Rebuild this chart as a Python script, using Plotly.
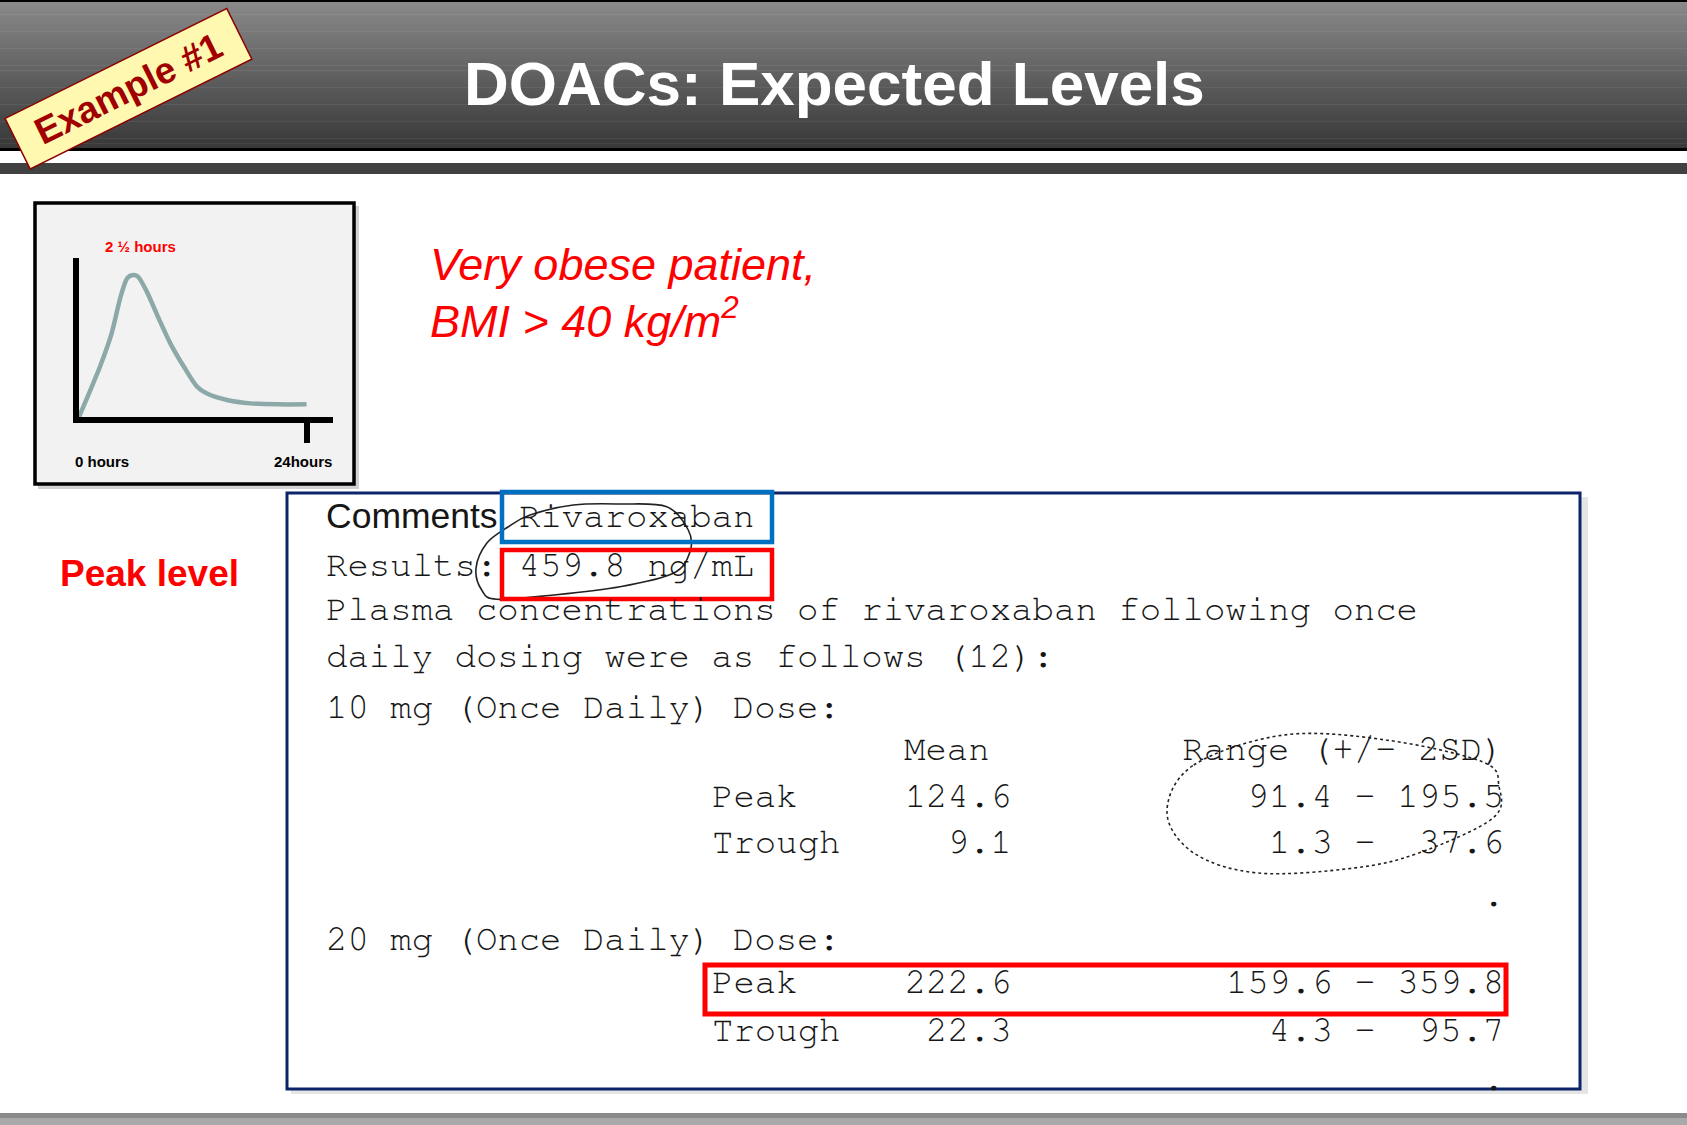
import plotly.graph_objects as go

W, H = 1687, 1125

# ---- data ----
# schematic PK curve in the inset (hours, % of peak)
t_hours = [0, 2.3, 3.4, 4.4, 5.1, 5.7, 6.2, 7.1, 8.3, 9.7, 11.1, 12.5, 13.5, 15.6, 18.1, 20.9, 24]
conc_pct = [0, 37, 58, 85, 98, 100, 99, 89, 71, 51, 35, 21, 16.5, 12, 9.6, 8.9, 8.9]

drug = "Rivaroxaban"
patient_result = 459.8
intro_lines = ["Plasma concentrations of rivaroxaban following once",
               "daily dosing were as follows (12):"]
doses = ["10 mg", "20 mg"]
peak_mean = [124.6, 222.6]
trough_mean = [9.1, 22.3]
peak_lo = [91.4, 159.6]
peak_hi = [195.5, 359.8]
trough_lo = [1.3, 4.3]
trough_hi = [37.6, 95.7]

SANS = "Arial, Liberation Sans, sans-serif"
MONO = "FreeMono, Nimbus Mono PS, Courier New, Liberation Mono, monospace"
RED = "#FF0000"
CW = 21.42          # monospace advance (px) at the report font size
X0 = 325            # left margin of the scanned report text


def rect(x0, y0, x1, y1, fill=None, line=None, lw=0, layer="below"):
    return dict(type="rect", xref="x", yref="y", x0=x0, y0=y0, x1=x1, y1=y1,
                fillcolor=fill or "rgba(0,0,0,0)", layer=layer,
                line=dict(color=line or "rgba(0,0,0,0)", width=lw))


def smooth_path(pts):
    """closed catmull-rom loop -> svg path (hand-drawn circles)"""
    n = len(pts)
    d = f"M {pts[0][0]},{pts[0][1]}"
    for i in range(n):
        p0, p1, p2, p3 = pts[i - 1], pts[i], pts[(i + 1) % n], pts[(i + 2) % n]
        c1 = (p1[0] + (p2[0] - p0[0]) / 6, p1[1] + (p2[1] - p0[1]) / 6)
        c2 = (p2[0] - (p3[0] - p1[0]) / 6, p2[1] - (p3[1] - p1[1]) / 6)
        d += f" C {c1[0]:.1f},{c1[1]:.1f} {c2[0]:.1f},{c2[1]:.1f} {p2[0]:.1f},{p2[1]:.1f}"
    return d + " Z"


def txt(x, y, s, size, color="black", anchor="left", bold=False, italic=False, family=SANS):
    if bold:
        s = f"<b>{s}</b>"
    if italic:
        s = f"<i>{s}</i>"
    return dict(x=x, y=y, xref="x", yref="y", text=s, showarrow=False, xanchor=anchor,
                yanchor="middle", borderpad=0, font=dict(family=family, size=size, color=color))


def mono(row_y, s):
    # leading blanks -> shift the anchor instead, so text boxes don't overlap
    lead = len(s) - len(s.lstrip(" "))
    s = s.lstrip(" ")
    return txt(X0 + lead * CW, row_y, s.replace(" ", "\u00a0"), 35.7, color="#161616", family=MONO)


shapes = []
# header gradient
n = 60
for i in range(n):
    f = i / (n - 1)
    c = int(137 - f * 80)
    shapes.append(rect(0, 2 + i * 146 / n, W, 2 + (i + 1) * 146 / n + 0.6, fill=f"rgb({c},{c},{c})"))
shapes.append(rect(0, 0, W, 2, fill="black"))
shapes.append(rect(0, 148, W, 151, fill="black"))
shapes.append(rect(0, 163, W, 174, fill="#414141"))
# bottom band
shapes.append(rect(0, 1113, W, 1118, fill="#8a8a8a"))
shapes.append(rect(0, 1118, W, 1125, fill="#a9a9a9"))

# inset box with shadow
shapes.append(rect(38, 206, 359, 489, fill="rgba(0,0,0,0.18)"))
shapes.append(rect(35, 203, 354, 484, fill="#F2F2F2", line="black", lw=3.5))

# scanned report box with shadow
shapes.append(rect(291, 497, 1588, 1094, fill="rgba(0,0,0,0.10)"))
shapes.append(rect(287, 493, 1580, 1089, fill="white", line="#0D2468", lw=3))

# hand-drawn loops
range_loop = [(1193.8, 765), (1284, 735), (1386, 740), (1482.8, 762), (1498.9, 786),
              (1493, 818), (1418.6, 853), (1354, 868), (1258, 873), (1193.8, 853), (1167, 812)]
shapes.append(dict(type="path", xref="x", yref="y", path=smooth_path(range_loop), layer="above",
                   line=dict(color="#222", width=1.6, dash="dot")))
result_loop = [(508, 527), (486.7, 543.3), (476, 568.3), (481.7, 590), (496.7, 599.3),
               (553.3, 595), (620, 586.7), (673.3, 573.3), (690, 551.7), (688.3, 530),
               (666.7, 506.7), (620, 504), (573.3, 505), (530, 515)]
shapes.append(dict(type="path", xref="x", yref="y", path=smooth_path(result_loop), layer="above",
                   line=dict(color="#222", width=1.6)))

# highlight boxes
shapes.append(rect(502, 492, 772, 542, line="#0070C0", lw=4.5, layer="above"))
shapes.append(rect(502, 550, 772, 599, line=RED, lw=4.5, layer="above"))
shapes.append(rect(705, 965, 1506, 1014, line=RED, lw=5, layer="above"))

ann = []
ann.append(txt(834, 83, "DOACs: Expected Levels", 62, color="white", anchor="center", bold=True))
tag = txt(128, 89, "Example #1", 37, color="#A00000", anchor="center", bold=True)
tag.update(textangle=-26.4, bgcolor="#FFF8B0", bordercolor="#8B0000", borderwidth=1.5,
           width=246, height=55)
ann.append(tag)

ann.append(txt(140, 246, "2 ½ hours", 15, color=RED, anchor="center", bold=True))
ann.append(txt(74, 461, "0 hours", 15, anchor="left", bold=True))
ann.append(txt(303, 461, "24hours", 15, anchor="center", bold=True))

ann.append(txt(429, 264, "Very obese patient,", 45, color=RED, italic=True))
ann.append(txt(429, 318, "BMI > 40 kg/m<sup>2</sup>", 45, color=RED, italic=True))
ann.append(txt(149, 573, "Peak level", 37, color=RED, anchor="center", bold=True))

# report text
ann.append(txt(X0, 516, "Comments", 35.5, color="#161616"))
ann.append(mono(516, " " * 9 + drug))
ann.append(mono(565, f"Results: {patient_result:.1f} ng/mL"))
ann.append(mono(609, intro_lines[0]))
ann.append(mono(656, intro_lines[1]))


def row(label, mean, lo, hi):
    return " " * 18 + f"{label:<9}{mean:>5.1f}" + f"{lo:.1f} - {hi:>5.1f}".rjust(23)


blocks = [(707, 749, 796, 842, 895), (939, None, 982, 1030, 1079)]
for k, (y_dose, y_head, y_peak, y_trough, y_dot) in enumerate(blocks):
    ann.append(mono(y_dose, f"{doses[k]} (Once Daily) Dose:"))
    if y_head:
        ann.append(mono(y_head, " " * 27 + "Mean" + " " * 9 + "Range (+/- 2SD)"))
    ann.append(mono(y_peak, row("Peak", peak_mean[k], peak_lo[k], peak_hi[k])))
    ann.append(mono(y_trough, row("Trough", trough_mean[k], trough_lo[k], trough_hi[k])))
    ann.append(mono(y_dot, " " * 54 + "."))

fig = go.Figure()
fig.add_trace(go.Scatter(x=[], y=[], xaxis="x", yaxis="y", showlegend=False))
fig.add_trace(go.Scatter(x=t_hours, y=conc_pct, xaxis="x2", yaxis="y2", mode="lines",
                         line=dict(color="#8DA8A8", width=4.5, shape="spline", smoothing=0.8),
                         hoverinfo="skip", showlegend=False))

fig.update_layout(
    width=W, height=H, margin=dict(l=0, r=0, t=0, b=0),
    paper_bgcolor="white", plot_bgcolor="rgba(0,0,0,0)", showlegend=False,
    xaxis=dict(range=[0, W], visible=False, domain=[0, 1], fixedrange=True),
    yaxis=dict(range=[H, 0], visible=False, domain=[0, 1], fixedrange=True),
    xaxis2=dict(domain=[79 / W, 333.4 / W], range=[0, 26.83], anchor="y2",
                showline=True, linewidth=6, linecolor="black", showgrid=False, zeroline=False,
                tickvals=[24], ticks="outside", ticklen=20, tickwidth=6, tickcolor="black",
                showticklabels=False, fixedrange=True),
    yaxis2=dict(domain=[1 - 417 / H, 1 - 258 / H], range=[0, 112], anchor="x2",
                showline=True, linewidth=6, linecolor="black", showgrid=False, zeroline=False,
                showticklabels=False, ticks="", fixedrange=True),
    shapes=shapes, annotations=ann,
)

fig.write_html("out.html", config={"displayModeBar": False},
               post_script="document.body.style.margin='0px';")
